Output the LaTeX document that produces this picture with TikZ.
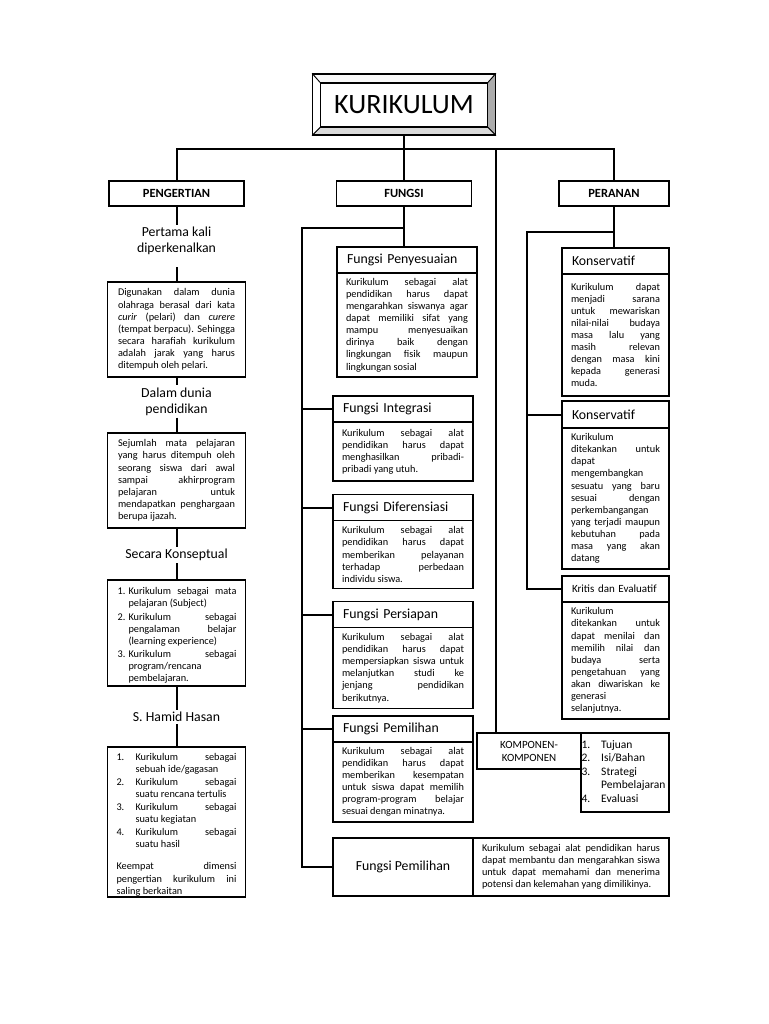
\documentclass[tikz,border=0pt]{standalone}
\usepackage{fontspec}
\setmainfont{Carlito}
\usepackage{enumitem}
\usetikzlibrary{positioning,calc}

\tolerance=9999
\hbadness=10000
\hyphenpenalty=10000
\exhyphenpenalty=10000

\newcommand{\bodyfont}{\fontsize{10.3}{12.1}\selectfont}
\newcommand{\headfont}{\fontsize{13.8}{15}\selectfont}
\newcommand{\subfont}{\fontsize{13.8}{16}\selectfont}
\newcommand{\catfont}{\fontsize{12.5}{14}\selectfont\bfseries}

\tikzstyle{line} = [draw, line width=2pt]
\tikzstyle{box} = [draw=black, line width=1.3pt, fill=white, rectangle, outer sep=0pt]
\tikzstyle{catbox} = [box, minimum width=135pt, minimum height=25pt, inner sep=0pt, font=\catfont]
\tikzstyle{headbox} = [box, minimum height=26pt, inner xsep=10pt, inner ysep=0pt, align=left, font=\headfont]
\tikzstyle{bodybox} = [box, inner xsep=9pt, inner ysep=0pt, align=justify, font=\bodyfont]
\tikzstyle{subhead} = [fill=white, align=center, inner sep=2pt, font=\subfont]

\begin{document}
\begin{tikzpicture}[x=1pt, y=-1pt]
\useasboundingbox (0,0) rectangle (768,1024);

\node (node0) [box, minimum width=183pt, minimum height=61pt, font=\fontsize{28}{30}\selectfont] at (404,104.5) {KURIKULUM};
\coordinate (i1) at ($(node0.north west)+(8,9)$);
\coordinate (i2) at ($(node0.north east)+(-8,9)$);
\coordinate (i3) at ($(node0.south east)+(-8,-8)$);
\coordinate (i4) at ($(node0.south west)+(8,-8)$);
\path [draw, line width=0.8pt, fill=gray!5] (node0.north west) -- (node0.north east) -- (i2) -- (i1) -- cycle;
\path [draw, line width=0.8pt, fill=gray!65] (node0.north east) -- (node0.south east) -- (i3) -- (i2) -- cycle;
\path [draw, line width=0.8pt, fill=gray!30] (node0.south east) -- (node0.south west) -- (i4) -- (i3) -- cycle;
\path [draw, line width=0.8pt, fill=white] (node0.south west) -- (node0.north west) -- (i1) -- (i4) -- cycle;
\draw [line width=1.3pt] (node0.north west) rectangle (node0.south east);
\draw [line width=1.3pt] (i1) rectangle (i3);

\node (node1) [catbox] at (176.5,193.5) {PENGERTIAN};
\node (node2) [catbox] at (404,193.5) {FUNGSI};
\node (node3) [catbox, minimum width=110pt] at (614,193.5) {PERANAN};
\node (node4) [box, minimum width=104pt, minimum height=36pt, align=center, font=\fontsize{11}{13}\selectfont] at (529,751) {KOMPONEN-\\KOMPONEN};
\node (node5) [box, minimum width=88pt, minimum height=79pt, text width=87pt, inner xsep=0.5pt, align=left, font=\fontsize{11.5}{13.5}\selectfont, below right=0pt and 0pt of node4.north east] {\begin{tabular}{@{}l@{\hspace{11pt}}l@{}}1. & Tujuan\\ 2. & Isi/Bahan\\ 3. & Strategi\\ & Pembelajaran\\ 4. & Evaluasi\end{tabular}};

% pengertian
\node (node10) [subhead] at (176.5,241) {Pertama kali\\diperkenalkan};
\node (node11) [bodybox, text width=117pt, inner xsep=10.5pt, minimum height=95pt] at (176.5,329.5) {Digunakan dalam dunia\linebreak olahraga berasal dari kata\linebreak \textit{curir} (pelari) dan \textit{curere}\linebreak (tempat berpacu). Sehingga\linebreak secara harafiah kurikulum\linebreak adalah jarak yang harus\linebreak ditempuh oleh pelari.};
\node (node12) [subhead] at (176.5,401.5) {Dalam dunia\\pendidikan};
\node (node13) [bodybox, text width=117pt, inner xsep=10.5pt, minimum height=95pt] at (176.5,480.5) {Sejumlah mata pelajaran\linebreak yang harus ditempuh oleh\linebreak seorang siswa dari awal\linebreak sampai akhirprogram\linebreak pelajaran untuk\linebreak mendapatkan penghargaan\linebreak berupa ijazah.};
\node (node14) [subhead] at (176.5,555) {Secara Konseptual};
\node (node15) [bodybox, text width=120pt, minimum height=106pt] at (176.5,633) {\begin{enumerate}[leftmargin=12pt, labelsep=3pt, itemsep=1pt, topsep=0pt, parsep=0pt]
\item Kurikulum sebagai mata\linebreak pelajaran (Subject)
\item Kurikulum sebagai\linebreak pengalaman belajar\linebreak (learning experience)
\item Kurikulum sebagai\linebreak program/rencana\\ pembelajaran.
\end{enumerate}};
\node (node16) [subhead] at (176.5,717) {S. Hamid Hasan};
\node (node17) [bodybox, text width=120pt, minimum height=150pt] at (176.5,822) {\begin{enumerate}[leftmargin=19pt, labelwidth=17pt, labelsep=2pt, align=left, itemsep=1pt, topsep=0pt, parsep=0pt]
\item Kurikulum sebagai\linebreak sebuah ide/gagasan
\item Kurikulum sebagai\linebreak suatu rencana tertulis
\item Kurikulum sebagai\linebreak suatu kegiatan
\item Kurikulum sebagai\linebreak suatu hasil
\end{enumerate}
\par\vspace{10pt}
Keempat dimensi\linebreak pengertian kurikulum ini\linebreak saling berkaitan};

% fungsi
\node (node20) [headbox, text width=120pt] at (407,260) {Fungsi Penyesuaian};
\node (node20b) [bodybox, text width=122pt, minimum height=104pt, below=0pt of node20] {Kurikulum sebagai alat\linebreak pendidikan harus dapat\linebreak mengarahkan siswanya agar\linebreak dapat memiliki sifat yang\linebreak mampu menyesuaikan\linebreak dirinya baik dengan\linebreak lingkungan fisik maupun\linebreak lingkungan sosial};
\node (node21) [headbox, text width=120pt] at (403,409) {Fungsi Integrasi};
\node (node21b) [bodybox, text width=122pt, minimum height=59pt, below=0pt of node21] {Kurikulum sebagai alat\linebreak pendidikan harus dapat\linebreak menghasilkan pribadi-\linebreak pribadi yang utuh.};
\node (node22) [headbox, text width=120pt] at (403,507.5) {Fungsi Diferensiasi};
\node (node22b) [bodybox, text width=122pt, minimum height=68pt, below=0pt of node22] {Kurikulum sebagai alat\linebreak pendidikan harus dapat\linebreak memberikan pelayanan\linebreak terhadap perbedaan\linebreak individu siswa.};
\node (node23) [headbox, text width=120pt] at (403,614.5) {Fungsi Persiapan};
\node (node23b) [bodybox, text width=122pt, minimum height=81pt, below=0pt of node23] {Kurikulum sebagai alat\linebreak pendidikan harus dapat\linebreak mempersiapkan siswa untuk\linebreak melanjutkan studi ke\linebreak jenjang pendidikan\linebreak berikutnya.};
\node (node24) [headbox, text width=120pt] at (403,729) {Fungsi Pemilihan};
\node (node24b) [bodybox, text width=122pt, minimum height=80pt, below=0pt of node24] {Kurikulum sebagai alat\linebreak pendidikan harus dapat\linebreak memberikan kesempatan\linebreak untuk siswa dapat memilih\linebreak program-program belajar\linebreak sesuai dengan minatnya.};
\node (node25) [box, minimum width=140pt, minimum height=58pt, font=\headfont] at (403,867) {Fungsi Pemilihan};
\node (node26) [bodybox, text width=178pt, minimum height=58pt, right=0pt of node25] {Kurikulum sebagai alat pendidikan harus\linebreak dapat membantu dan mengarahkan siswa\linebreak untuk dapat memahami dan menerima\linebreak potensi dan kelemahan yang dimilikinya.};

% peranan
\node (node30) [headbox, text width=87pt] at (615.5,261) {Konservatif};
\node (node30b) [bodybox, text width=89pt, minimum height=122pt, below=0pt of node30] {Kurikulum dapat\linebreak menjadi sarana\linebreak untuk mewariskan\linebreak nilai-nilai budaya\linebreak masa lalu yang\linebreak masih relevan\linebreak dengan masa kini\linebreak kepada generasi\linebreak muda.};
\node (node31) [headbox, text width=87pt, minimum height=27pt] at (615.5,414.5) {Konservatif};
\node (node31b) [bodybox, text width=89pt, minimum height=141pt, below=0pt of node31] {Kurikulum\\ ditekankan untuk\linebreak dapat\\ mengembangkan\\ sesuatu yang baru\linebreak sesuai dengan\linebreak perkembangangan\\ yang terjadi maupun\linebreak kebutuhan pada\linebreak masa yang akan\linebreak datang};
\node (node32) [headbox, text width=87pt, font=\fontsize{11}{13}\selectfont] at (615.5,589) {Kritis dan Evaluatif};
\node (node32b) [bodybox, text width=89pt, minimum height=117pt, below=0pt of node32] {Kurikulum\\ ditekankan untuk\linebreak dapat menilai dan\linebreak memilih nilai dan\linebreak budaya serta\linebreak pengetahuan yang\linebreak akan diwariskan ke\linebreak generasi\\ selanjutnya.};

% connectors
\coordinate (c0) at (404,149);
\coordinate (c4) at (496,149);
\path [line] (node1.north) -- (node1.north |- c0) -- (node3.north |- c0) -- (node3.north);
\path [line] (node0.south) -- (node2.north);
\path [line] (c4) -- (c4 |- node4.north);

\path [line] (node1.south) -- (node10.north);
\path [line, shorten <=10pt] (node10.south) -- (node11.north);
\path [line] (node11.south) -- (node12.north);
\path [line] (node12.south) -- (node13.north);
\path [line] (node13.south) -- (node14.north);
\path [line] (node14.south) -- (node15.north);
\path [line] (node15.south) -- (node16.north);
\path [line] (node16.south) -- (node17.north);

\coordinate (c2) at (302,228);
\path [line] (node2.south) -- (node2.south |- node20.north);
\path [line] (node2.south |- c2) -- (c2) -- (c2 |- node25.west) -- (node25.west);
\path [line] (c2 |- node21.west) -- (node21.west);
\path [line] (c2 |- node22.west) -- (node22.west);
\path [line] (c2 |- node23.west) -- (node23.west);
\path [line] (c2 |- node24.west) -- (node24.west);

\coordinate (c3) at (527,232);
\path [line] (node3.south) -- (node3.south |- node30.north);
\path [line] (node3.south |- c3) -- (c3) -- (c3 |- node32.west) -- (node32.west);
\path [line] (c3 |- node31.west) -- (node31.west);

\end{tikzpicture}
\end{document}
